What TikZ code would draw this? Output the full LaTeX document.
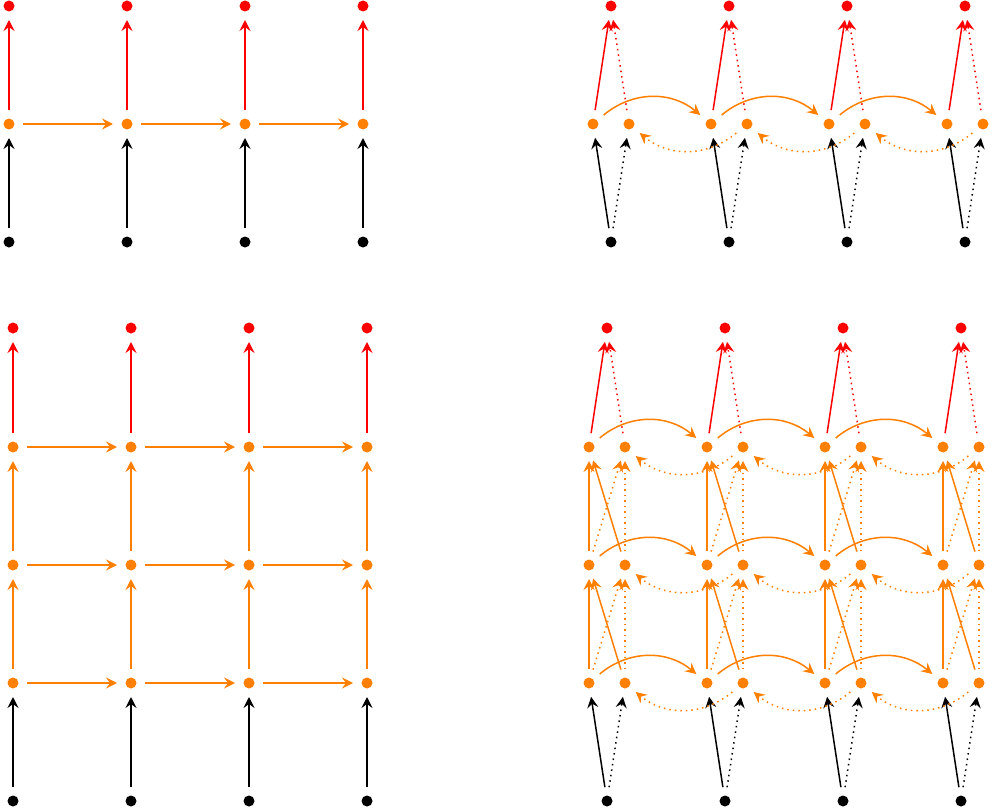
\documentclass[tikz,border=0pt]{standalone}
\usetikzlibrary{arrows.meta}
\begin{document}
\begin{tikzpicture}[x=0.5pt,y=0.5pt,
  vtx/.style={circle,fill,inner sep=0pt,minimum size=5.5pt,outer sep=4.25pt},
  xv/.style={vtx,black},hv/.style={vtx,orange},yv/.style={vtx,red},
  e/.style={-{Stealth[length=5.5pt,width=5.5pt,inset=2pt]},line width=0.75pt}]
\useasboundingbox (0,0) rectangle (992,811);
% one layer
\foreach \i in {0,...,3}{
  \node[xv] (Ax\i) at ({9+118*\i},569) {};
  \node[hv] (Ah\i) at ({9+118*\i},687) {};
  \node[yv] (Ay\i) at ({9+118*\i},805) {};
  \draw[e] (Ax\i) -- (Ah\i);
  \draw[e,red] (Ah\i) -- (Ay\i);
}
\foreach \i [count=\j] in {0,1,2} \draw[e,orange] (Ah\i) -- (Ah\j);
% one layer, both ways
\foreach \i in {0,...,3}{
  \node[xv] (Bx\i) at ({611+118*\i},569) {};
  \node[hv] (Bf\i) at ({593+118*\i},687) {};
  \node[hv] (Bb\i) at ({629+118*\i},687) {};
  \node[yv] (By\i) at ({611+118*\i},805) {};
  \draw[e] (Bx\i) -- (Bf\i);
  \draw[e,dotted] (Bx\i) -- (Bb\i);
  \draw[e,red] (Bf\i) -- (By\i);
  \draw[e,red,dotted] (Bb\i) -- (By\i);
}
\foreach \i [count=\j] in {0,1,2}{
  \draw[e,orange] (Bf\i) to[out=40,in=140] (Bf\j);
  \draw[e,orange,dotted] (Bb\j) to[out=220,in=-40] (Bb\i);
}
% three layers
\foreach \i in {0,...,3}{
  \node[xv] (Cx\i) at ({13+118*\i},10) {};
  \foreach \l/\y in {1/128,2/246,3/364} \node[hv] (Ch\l-\i) at ({13+118*\i},\y) {};
  \node[yv] (Cy\i) at ({13+118*\i},483) {};
  \draw[e] (Cx\i) -- (Ch1-\i);
  \foreach \l [count=\m from 2] in {1,2} \draw[e,orange] (Ch\l-\i) -- (Ch\m-\i);
  \draw[e,red] (Ch3-\i) -- (Cy\i);
}
\foreach \l in {1,2,3}
  \foreach \i [count=\j] in {0,1,2} \draw[e,orange] (Ch\l-\i) -- (Ch\l-\j);
% three layers, both ways
\foreach \i in {0,...,3}{
  \node[xv] (Dx\i) at ({607+118*\i},10) {};
  \foreach \l/\y in {1/128,2/246,3/364}{
    \node[hv] (Df\l-\i) at ({589+118*\i},\y) {};
    \node[hv] (Db\l-\i) at ({625+118*\i},\y) {};
  }
  \node[yv] (Dy\i) at ({607+118*\i},483) {};
  \draw[e] (Dx\i) -- (Df1-\i);
  \draw[e,dotted] (Dx\i) -- (Db1-\i);
  \foreach \l [count=\m from 2] in {1,2}{
    \draw[e,orange] (Df\l-\i) -- (Df\m-\i);
    \draw[e,orange] (Db\l-\i) -- (Df\m-\i);
    \draw[e,orange,dotted] (Df\l-\i) -- (Db\m-\i);
    \draw[e,orange,dotted] (Db\l-\i) -- (Db\m-\i);
  }
  \draw[e,red] (Df3-\i) -- (Dy\i);
  \draw[e,red,dotted] (Db3-\i) -- (Dy\i);
}
\foreach \l in {1,2,3}
  \foreach \i [count=\j] in {0,1,2}{
    \draw[e,orange] (Df\l-\i) to[out=40,in=140] (Df\l-\j);
    \draw[e,orange,dotted] (Db\l-\j) to[out=220,in=-40] (Db\l-\i);
  }
\end{tikzpicture}
\end{document}
